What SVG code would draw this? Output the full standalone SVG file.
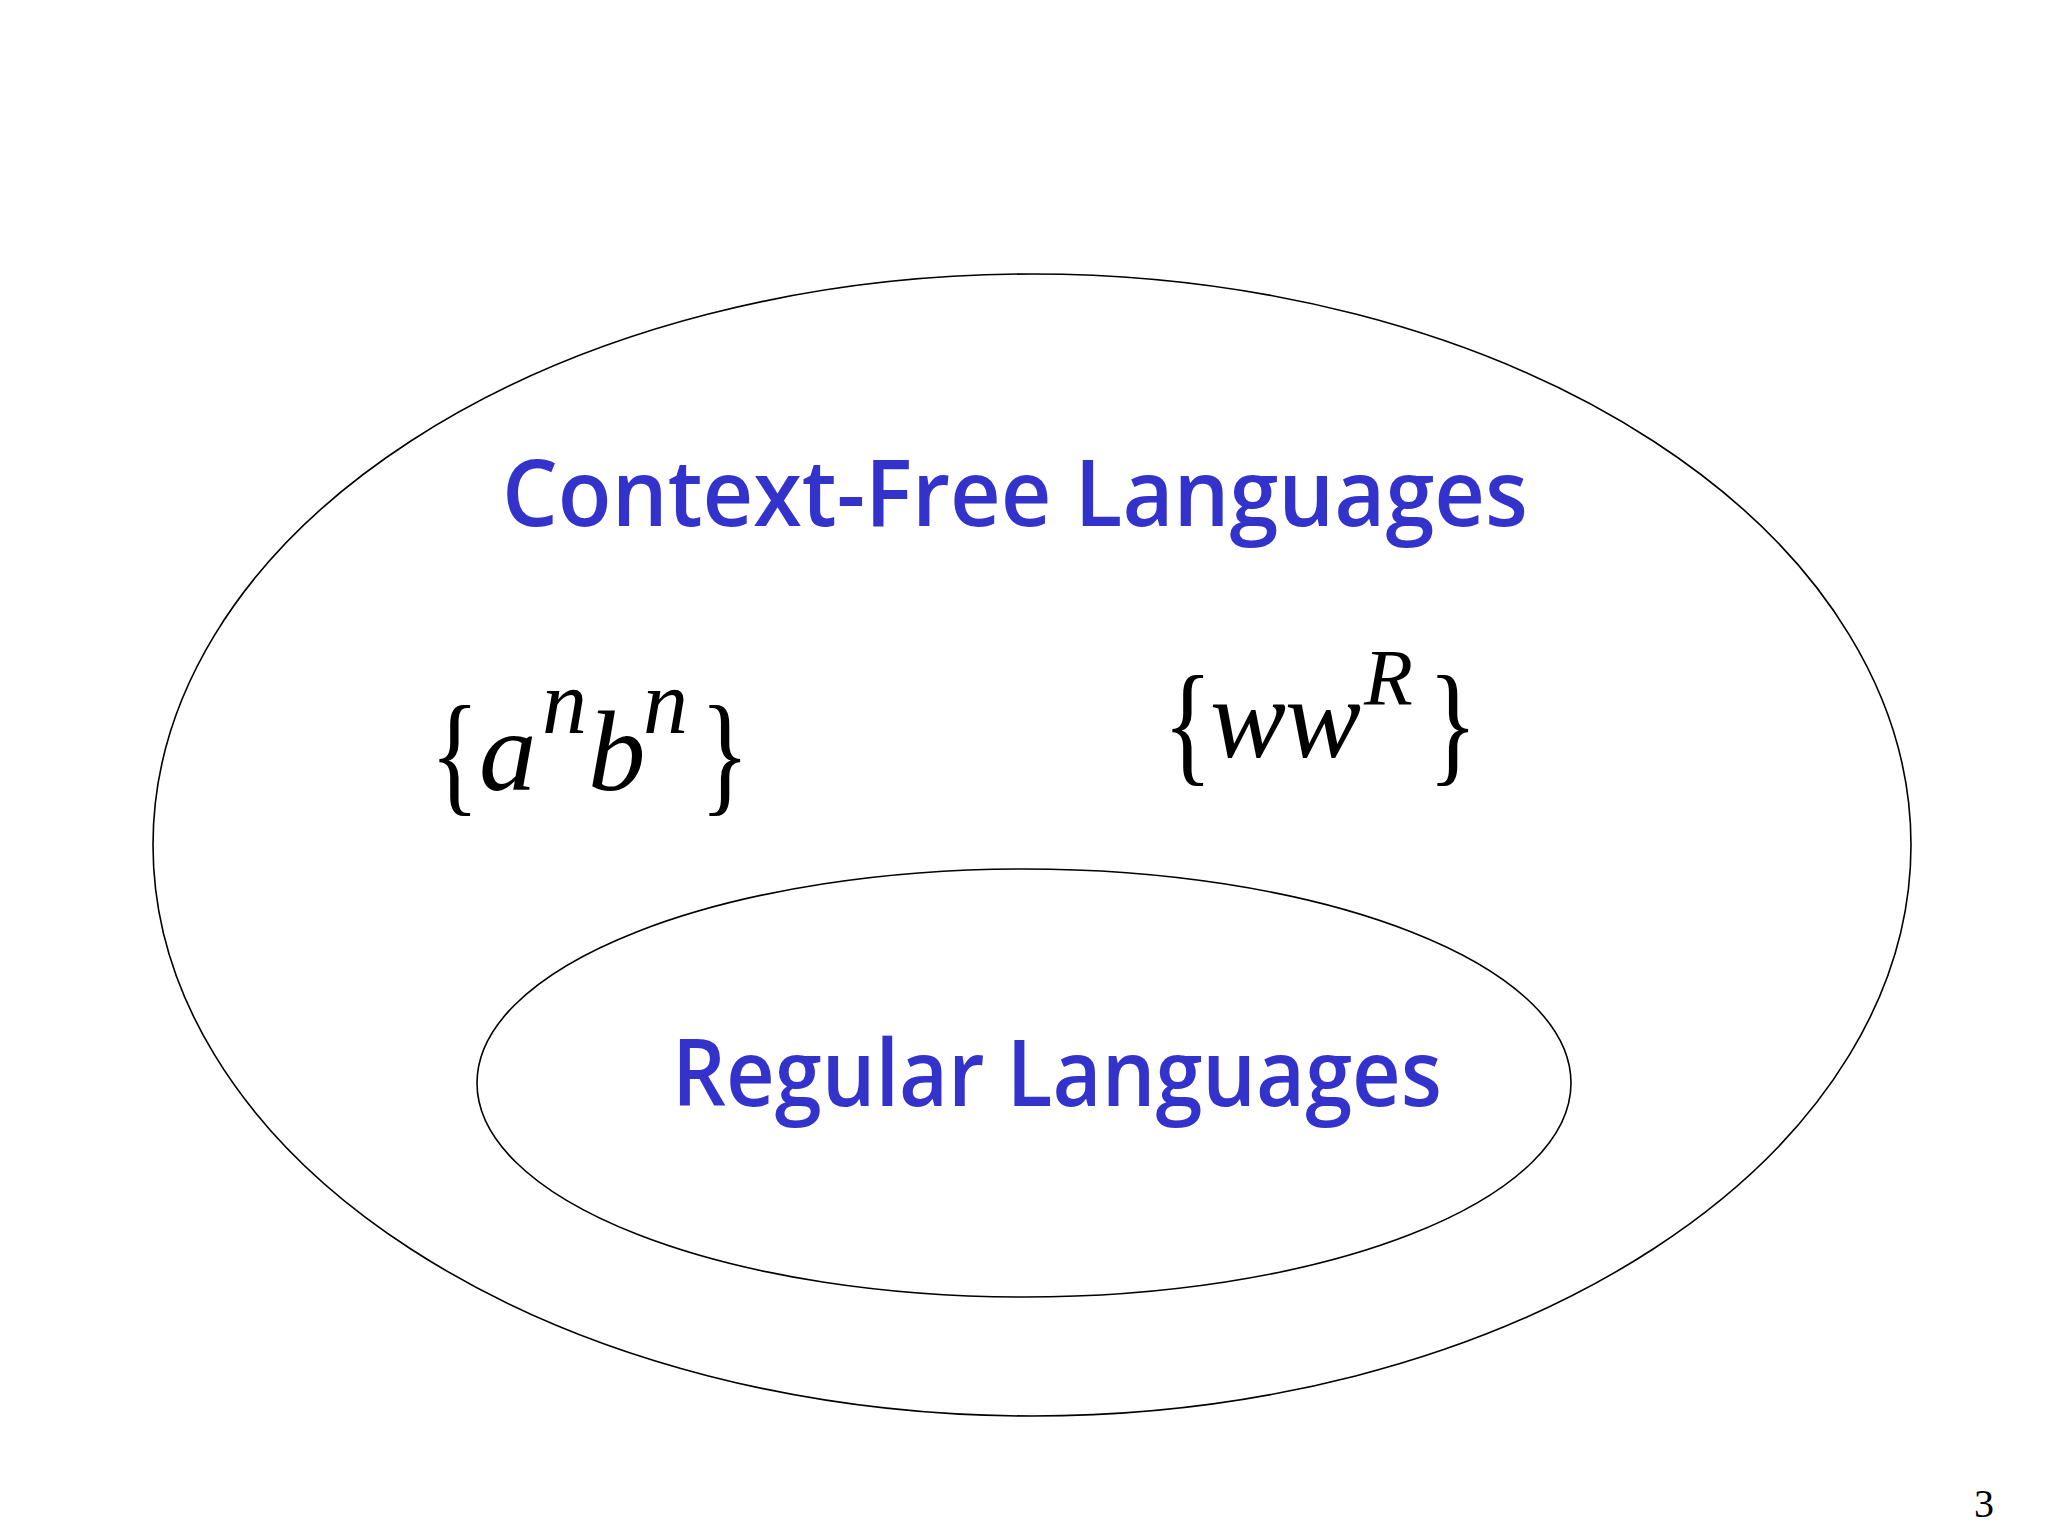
<svg xmlns="http://www.w3.org/2000/svg" width="2048" height="1536" viewBox="0 0 2048 1536">
<style>
.set{fill:none;stroke:#000;stroke-width:1.6}
.lbl{font-family:"Open Sans","DejaVu Sans",sans-serif;fill:#3333cc;font-weight:600}
.m{font-family:"Liberation Serif","Times New Roman",serif;fill:#000}
.i{font-style:italic}
.br{font-size:112px}
</style>
<rect width="2048" height="1536" fill="#fff"/>
<g id="cfl">
<ellipse class="set" cx="1032" cy="845" rx="879" ry="571"/>
<text class="lbl" x="502" y="526" font-size="92" textLength="1026" lengthAdjust="spacingAndGlyphs">Context-Free Languages</text>
</g>
<g id="anbn">
<text class="m br" transform="translate(430,798) scale(0.92,1.2)">{</text>
<text class="m i" x="479" y="790" font-size="115">a</text>
<text class="m i" x="542" y="733" font-size="90">n</text>
<text class="m i" x="588" y="790" font-size="115">b</text>
<text class="m i" x="643" y="733" font-size="90">n</text>
<text class="m br" transform="translate(700,798) scale(0.92,1.2)">}</text>
</g>
<g id="wwr">
<text class="m br" transform="translate(1163,768) scale(0.92,1.2)">{</text>
<text class="m i" x="1210" y="757" font-size="114">w</text>
<text class="m i" x="1285" y="757" font-size="114">w</text>
<text class="m i" x="1364" y="705" font-size="80">R</text>
<text class="m br" transform="translate(1428,768) scale(0.92,1.2)">}</text>
</g>
<g id="rl">
<ellipse class="set" cx="1024" cy="1083" rx="547" ry="214"/>
<text class="lbl" x="672" y="1106" font-size="92" textLength="770" lengthAdjust="spacingAndGlyphs">Regular Languages</text>
</g>
<text class="m" x="1974" y="1517" font-size="40">3</text>
<g id="connectors"/>
</svg>
